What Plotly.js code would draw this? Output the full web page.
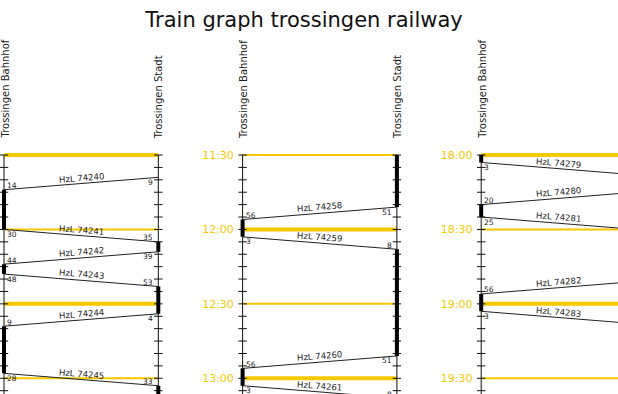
<!DOCTYPE html>
<html>
<head>
<meta charset="utf-8">
<script src="https://cdn.plot.ly/plotly-3.0.1.min.js"></script>
<style>
  html, body { margin: 0; padding: 0; overflow: hidden; background: #fff; width: 618px; height: 394px; }
  #plot { position: absolute; left: -60px; top: 0; width: 760px; height: 420px; }
</style>
</head>
<body>
<div id="plot"></div>
<script>
// ---------- data ----------
const stations = ['Trossingen Bahnhof', 'Trossingen Stadt'];
const panelStarts = ['06:00', '11:30', '18:00'];

const trainNames = ['HzL 74240', 'HzL 74241', 'HzL 74242', 'HzL 74243', 'HzL 74244', 'HzL 74245',
                    'HzL 74258', 'HzL 74259', 'HzL 74260', 'HzL 74261',
                    'HzL 74279', 'HzL 74280', 'HzL 74281', 'HzL 74282', 'HzL 74283'];
const trainFrom = [1, 0, 1, 0, 1, 0,
                   1, 0, 1, 0,
                   0, 1, 0, 1, 0];            // 0 = Bahnhof, 1 = Stadt
const trainDep = ['06:09', '06:30', '06:39', '06:48', '07:04', '07:28',
                  '11:51', '12:03', '12:51', '13:03',
                  '18:03', '18:15', '18:25', '18:51', '19:03'];
const trainArr = ['06:14', '06:35', '06:44', '06:53', '07:09', '07:33',
                  '11:56', '12:08', '12:56', '13:08',
                  '18:08', '18:20', '18:30', '18:56', '19:08'];

// dwell (train standing at station)
const dwellStation = [0, 1, 0, 1, 0, 1,
                      1, 0, 1, 0, 1,
                      0, 1, 0, 1, 0, 1];
const dwellFrom = ['06:14', '06:35', '06:44', '06:53', '07:09', '07:33',
                   '11:30', '11:56', '12:08', '12:56', '13:08',
                   '18:00', '18:08', '18:20', '18:30', '18:56', '19:08'];
const dwellTo   = ['06:30', '06:39', '06:48', '07:04', '07:28', '07:51',
                   '11:51', '12:03', '12:51', '13:03', '13:30',
                   '18:03', '18:15', '18:25', '18:51', '19:03', '19:30'];

// ---------- helpers ----------
const W = 760, H = 420;
const MARGIN_T = 145;
const pxPerMin = 2.481;
const stationLeft0 = 64, panelGap = 238.6, panelW = 154.3;
const padPx = 7.75, pad = padPx / panelW;
const topPadPx = 10;
const panelSpan = 110;     // minutes drawn per panel

const YEL = '#f6c800';
const FONT = 'DejaVu Sans, Verdana, sans-serif';

function toMin(s) { const p = s.split(':'); return (+p[0]) * 60 + (+p[1]); }
function msOf(min) { return Date.UTC(2000, 0, 1) + min * 60000; }

const traces = [];
const annotations = [];
const layout = {
  width: W, height: H,
  margin: { l: 0, r: 0, t: MARGIN_T, b: 0, pad: 0 },
  paper_bgcolor: '#ffffff', plot_bgcolor: 'rgba(0,0,0,0)',
  showlegend: false, hovermode: false,
  title: {
    text: 'Train graph trossingen railway',
    font: { family: FONT, size: 21, color: '#111111' },
    xref: 'container', x: (304 + 60) / W, xanchor: 'center',
    yref: 'container', y: 1 - 20 / H, yanchor: 'middle'
  },
  annotations: annotations
};

panelStarts.forEach((ps, p) => {
  const T0 = toMin(ps);
  const xa = p === 0 ? 'x' : 'x' + (p + 1);
  const ya = p === 0 ? 'y' : 'y' + (p + 1);
  const xKey = p === 0 ? 'xaxis' : 'xaxis' + (p + 1);
  const yKey = p === 0 ? 'yaxis' : 'yaxis' + (p + 1);
  const left = stationLeft0 + p * panelGap;
  const plotH = H - MARGIN_T;

  layout[xKey] = {
    domain: [(left - padPx) / W, (left + panelW + padPx) / W],
    range: [-pad, 1 + pad], visible: false, fixedrange: true, anchor: ya
  };
  layout[yKey] = {
    type: 'date', anchor: xa,
    range: [msOf(T0 + (plotH - topPadPx) / pxPerMin), msOf(T0 - topPadPx / pxPerMin)],
    tickformat: '%H:%M', tick0: msOf(0), dtick: 30 * 60000,
    ticks: '', showgrid: false, zeroline: false, showline: false, fixedrange: true,
    showticklabels: p !== 0,   // first panel's time labels lie outside the visible frame
    tickfont: { family: FONT, size: 11, color: YEL }
  };

  // yellow half-hour / hour lines
  const hx = [], hy = [], sx = [], sy = [];
  for (let m = T0; m <= T0 + panelSpan + 30; m += 30) {
    const tx = (m % 60 === 0) ? hx : sx;
    const ty = (m % 60 === 0) ? hy : sy;
    tx.push(0, 1, null); ty.push(msOf(m), msOf(m), null);
  }
  traces.push({ x: sx, y: sy, xaxis: xa, yaxis: ya, mode: 'lines', line: { color: YEL, width: 2 } });
  traces.push({ x: hx, y: hy, xaxis: xa, yaxis: ya, mode: 'lines', line: { color: YEL, width: 4 } });

  // station axis lines
  const endM = T0 + panelSpan + 30;
  traces.push({ x: [0, 0, null, 1, 1], y: [msOf(T0), msOf(endM), null, msOf(T0), msOf(endM)],
    xaxis: xa, yaxis: ya, mode: 'lines', line: { color: '#111', width: 1 } });
  // 5 min ticks
  const tkx = [], tky = [];
  for (let m = T0; m <= endM; m += 5) { tkx.push(0, 1); tky.push(msOf(m), msOf(m)); }
  traces.push({ x: tkx, y: tky, xaxis: xa, yaxis: ya, mode: 'markers',
    marker: { symbol: 'line-ew', size: 6, line: { color: '#111', width: 1 } } });

  // dwell bars
  const dx = [], dy = [];
  dwellStation.forEach((s, i) => {
    const a = Math.max(toMin(dwellFrom[i]), T0), b = toMin(dwellTo[i]);
    if (b < T0 || a > endM) return;
    dx.push(s, s, null); dy.push(msOf(a), msOf(b), null);
  });
  traces.push({ x: dx, y: dy, xaxis: xa, yaxis: ya, mode: 'lines', line: { color: '#000', width: 4 } });

  // trains
  const lx = [], ly = [];
  trainNames.forEach((name, i) => {
    const dep = toMin(trainDep[i]), arr = toMin(trainArr[i]);
    if (dep < T0 - 5 || dep > T0 + panelSpan) return;
    const tL = trainFrom[i] === 0 ? dep : arr;   // time at Bahnhof (left)
    const tR = trainFrom[i] === 0 ? arr : dep;   // time at Stadt (right)
    lx.push(0, 1, null); ly.push(msOf(tL), msOf(tR), null);
    const ang = Math.atan2((tR - tL) * pxPerMin, panelW) * 180 / Math.PI;
    annotations.push({ xref: xa, yref: ya, x: 0.5, y: msOf((tL + tR) / 2), text: name,
      textangle: ang, showarrow: false, yshift: 6,
      font: { family: FONT, size: 8.5, color: '#222' } });
    // minute labels, placed toward the other end of the line
    annotations.push({ xref: xa, yref: ya, x: 0, y: msOf(tL), text: String(tL % 60),
      xanchor: 'left', xshift: 1, yanchor: 'middle', yshift: (tR < tL) ? 4 : -5,
      showarrow: false, font: { family: FONT, size: 7.5, color: '#222' } });
    annotations.push({ xref: xa, yref: ya, x: 1, y: msOf(tR), text: String(tR % 60),
      xanchor: 'right', xshift: -3, yanchor: 'middle', yshift: (tL < tR) ? 4 : -5,
      showarrow: false, font: { family: FONT, size: 7.5, color: '#222' } });
  });
  traces.push({ x: lx, y: ly, xaxis: xa, yaxis: ya, mode: 'lines', line: { color: '#222', width: 1 } });

  // station names
  stations.forEach((st, s) => {
    annotations.push({ xref: xa, yref: 'paper', x: s, xshift: 1, y: (H - 141) / (H - MARGIN_T),
      yanchor: 'bottom', xanchor: 'center', textangle: -90, text: st, showarrow: false,
      font: { family: FONT, size: 10, color: '#222' } });
  });
});

Plotly.newPlot('plot', traces, layout, { staticPlot: true, displayModeBar: false });
</script>
</body>
</html>
